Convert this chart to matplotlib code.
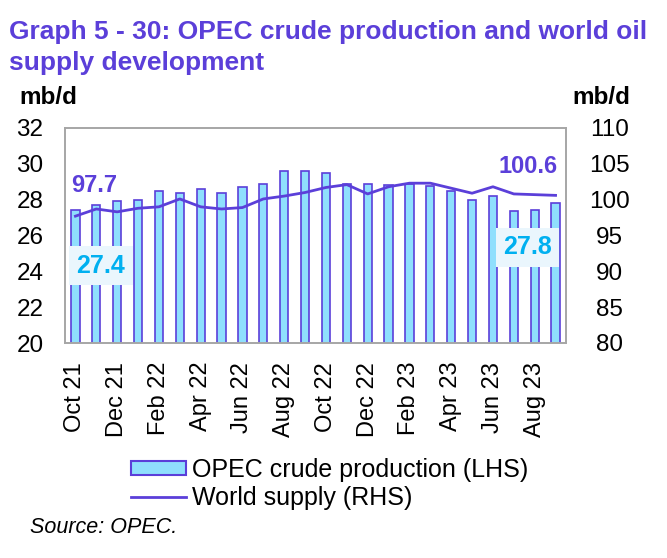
import matplotlib
matplotlib.use("Agg")
import matplotlib.pyplot as plt
from matplotlib.patches import Patch
from matplotlib.lines import Line2D

plt.rcParams['font.family'] = ['Liberation Sans', 'DejaVu Sans']

# Monthly data, Oct 21 - Sep 23
months = ["Oct 21", "Nov 21", "Dec 21", "Jan 22", "Feb 22", "Mar 22", "Apr 22", "May 22",
          "Jun 22", "Jul 22", "Aug 22", "Sep 22", "Oct 22", "Nov 22", "Dec 22", "Jan 23",
          "Feb 23", "Mar 23", "Apr 23", "May 23", "Jun 23", "Jul 23", "Aug 23", "Sep 23"]
opec_crude = [27.4, 27.7, 27.9, 28.0, 28.5, 28.4, 28.6, 28.4, 28.7, 28.9, 29.6, 29.6,
              29.5, 28.85, 28.85, 28.8, 28.9, 28.75, 28.5, 28.0, 28.2, 27.35, 27.45, 27.8]
world_supply = [97.7, 98.7, 98.3, 98.8, 99.0, 100.1, 99.0, 98.7, 98.9, 100.1, 100.5, 101.0,
                101.7, 102.1, 100.8, 101.8, 102.3, 102.3, 101.6, 100.9, 101.8, 100.8, 100.7, 100.6]
tick_labels = months[::2]

PURPLE = '#5B3FD9'
BAR_FILL = '#8FDFFD'
CYAN = '#00B0F0'
FRAME = '#A6A6A6'

fig = plt.figure(figsize=(6.67, 5.58), dpi=100)
W, H = 667, 558
ax = fig.add_axes([65 / W, 1 - 343 / H, (566 - 65) / W, (343 - 128) / H])
ax2 = ax.twinx()

x = range(len(months))
ax.bar(x, opec_crude, width=0.4, color=BAR_FILL, edgecolor=PURPLE, linewidth=1.2, zorder=2)
ax2.plot(x, world_supply, color=PURPLE, linewidth=2.0, zorder=3)

ax.set_xlim(-0.5, len(months) - 0.5)
ax.set_ylim(20, 32)
ax.set_yticks(range(20, 33, 2))
ax2.set_ylim(80, 110)
ax2.set_yticks(range(80, 111, 5))

ax.set_xticks(list(x)[::2])
ax.set_xticklabels(tick_labels, rotation=90)

for a in (ax, ax2):
    for s in a.spines.values():
        s.set_color(FRAME)
        s.set_linewidth(1.2)
ax.tick_params(axis='x', length=0, pad=13.5, labelsize=17)
ax.tick_params(axis='y', length=0, pad=15.5, labelsize=17.5)
ax2.tick_params(axis='y', length=0, pad=31.5, labelsize=17.5)
for lbl in ax2.get_yticklabels():
    lbl.set_horizontalalignment('center')

# value labels
ax2.text(-0.2, 102.0, f"{world_supply[0]}", color=PURPLE, fontsize=17,
         fontweight='bold', ha='left', va='center')
ax2.text(23.1, 104.6, f"{world_supply[-1]}", color=PURPLE, fontsize=17,
         fontweight='bold', ha='right', va='center')
box = dict(boxstyle='square,pad=0.3', facecolor='#EAF6FD', edgecolor='none')
ax.text(1.22, 24.3, f"{opec_crude[0]}", color=CYAN, fontsize=18, fontweight='bold',
        ha='center', va='center', bbox=box, zorder=5)
ax.text(21.65, 25.35, f"{opec_crude[-1]}", color=CYAN, fontsize=18, fontweight='bold',
        ha='center', va='center', bbox=box, zorder=5)

# title and units
fig.text(9 / W, 1 - 39.5 / H, "Graph 5 - 30: OPEC crude production and world oil",
         color=PURPLE, fontsize=19, fontweight='bold', va='baseline')
fig.text(9 / W, 1 - 70 / H, "supply development",
         color=PURPLE, fontsize=19, fontweight='bold', va='baseline')
fig.text(19 / W, 1 - 104 / H, "mb/d", fontsize=17.5, fontweight='bold', va='baseline')
fig.text(572 / W, 1 - 104 / H, "mb/d", fontsize=17.5, fontweight='bold', va='baseline')

handles = [Patch(facecolor=BAR_FILL, edgecolor=PURPLE, linewidth=1.5),
           Line2D([], [], color=PURPLE, linewidth=2.0)]
fig.legend(handles, ["OPEC crude production (LHS)", "World supply (RHS)"],
           loc='upper left', bbox_to_anchor=(131 / W, 1 - 458 / H), frameon=False,
           fontsize=18, handlelength=2.2, handleheight=0.5, handletextpad=0.25,
           labelspacing=0.15, borderpad=0, borderaxespad=0)

fig.text(30 / W, 1 - 533 / H, "Source: OPEC.", fontsize=15.5, style='italic', va='baseline')

fig.savefig("out.png", dpi=100)
